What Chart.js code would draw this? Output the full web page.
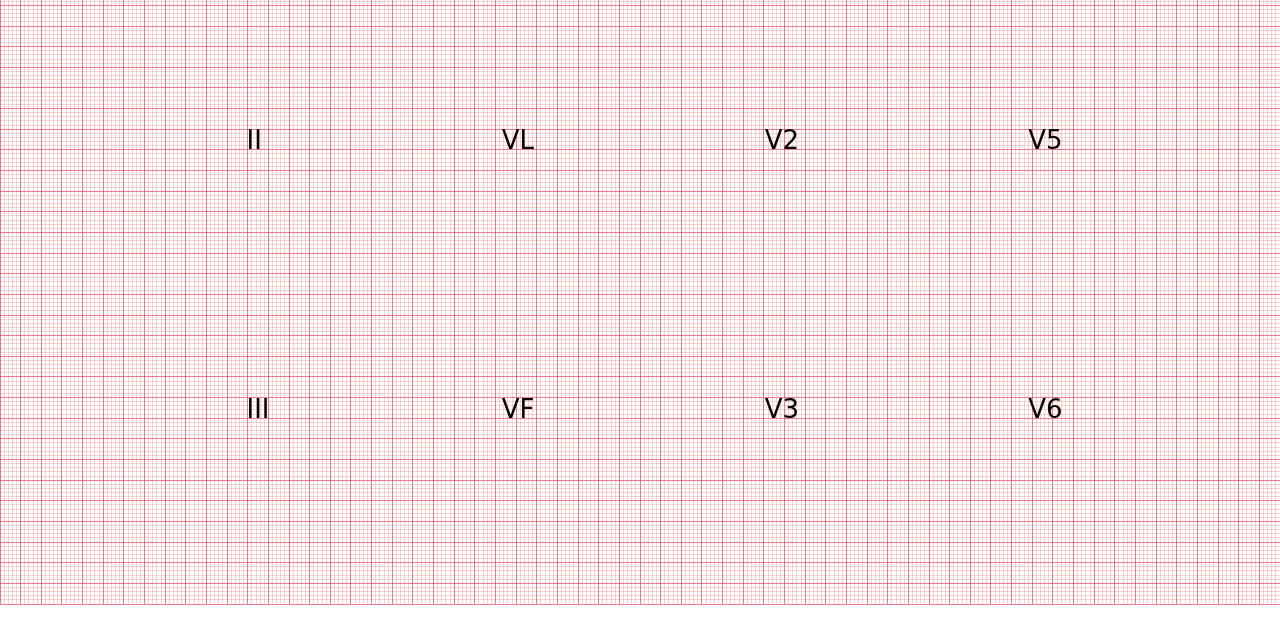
<!DOCTYPE html>
<html>
<head>
<meta charset="utf-8">
<style>
  html, body { margin: 0; padding: 0; background: #ffffff; }
  #wrap { width: 1280px; height: 640px; }
</style>
<script src="https://cdn.jsdelivr.net/npm/chart.js@4"></script>
</head>
<body>
<div id="wrap"><canvas id="c" width="1280" height="640"></canvas></div>
<script>
// Paper in millimetres: 1 mm minor squares, 5 mm major squares
const xRange = [0, 310];
const yRange = [0, 146.3];
const minorStep = 1;
const majorStep = 5;

// Lead labels (left-aligned text anchor, baseline) in mm
const leadNames = ['II', 'VL', 'V2', 'V5', 'III', 'VF', 'V3', 'V6'];
const leadX     = [59.7, 121.5, 185.2, 249.0, 59.7, 121.5, 185.2, 249.0];
const leadY     = [110.3, 110.3, 110.3, 110.3, 45.1, 45.1, 45.1, 45.1];

const leadLabelPlugin = {
  id: 'leadLabels',
  afterDatasetsDraw(chart) {
    const ctx = chart.ctx;
    const xs = chart.scales.x;
    const ys = chart.scales.y;
    ctx.save();
    ctx.fillStyle = '#000000';
    ctx.font = '26px "DejaVu Sans"';
    ctx.textAlign = 'left';
    ctx.textBaseline = 'alphabetic';
    leadNames.forEach((name, i) => {
      ctx.fillText(name, xs.getPixelForValue(leadX[i]), ys.getPixelForValue(leadY[i]));
    });
    ctx.restore();
  }
};

function gridScale(axis, range, step, color, width) {
  return {
    type: 'linear',
    axis: axis,
    position: axis === 'x' ? 'bottom' : 'left',
    min: range[0],
    max: range[1],
    display: true,
    border: { display: false },
    grid: { color: color, lineWidth: width, drawTicks: false, drawOnChartArea: true },
    ticks: { display: false, stepSize: step, autoSkip: false, includeBounds: false }
  };
}

new Chart(document.getElementById('c'), {
  type: 'line',
  data: { datasets: [] },
  options: {
    responsive: false,
    devicePixelRatio: 1,
    animation: false,
    layout: { padding: { left: 0, right: 0, top: 0, bottom: 36 } },
    plugins: { legend: { display: false }, tooltip: { enabled: false }, title: { display: false } },
    scales: {
      xMinor: gridScale('x', xRange, minorStep, 'rgba(240, 120, 110, 0.33)', 1),
      yMinor: gridScale('y', yRange, minorStep, 'rgba(240, 120, 110, 0.33)', 1),
      x: gridScale('x', xRange, majorStep, 'rgba(236, 70, 100, 0.62)', 1),
      y: gridScale('y', yRange, majorStep, 'rgba(236, 70, 100, 0.62)', 1)
    }
  },
  plugins: [leadLabelPlugin]
});
</script>
</body>
</html>
